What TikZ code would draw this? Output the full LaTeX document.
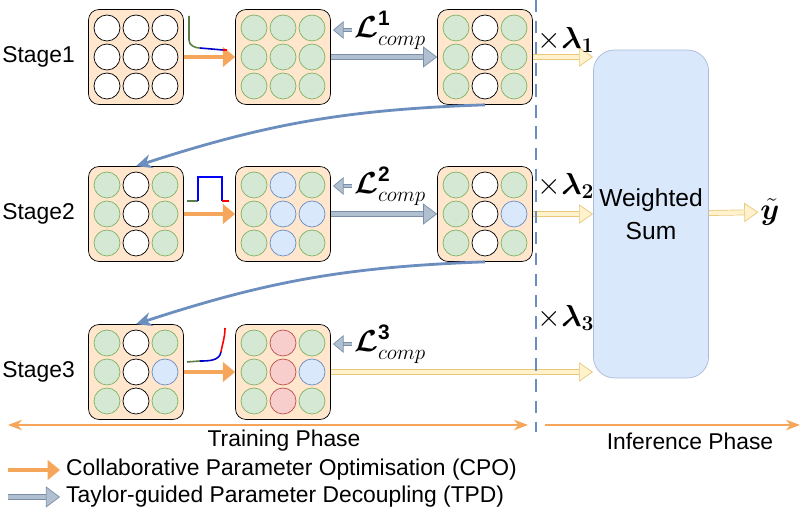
\documentclass[tikz,border=0pt]{standalone}
\usepackage{fontspec}
\setmainfont{Liberation Sans}
\usepackage{amsmath,bm}
\usetikzlibrary{arrows.meta}
\usetikzlibrary{calc}

\definecolor{boxfill}{HTML}{FFE6CC}
\definecolor{gfill}{HTML}{D5E8D4}\definecolor{gline}{HTML}{82B366}
\definecolor{bfill}{HTML}{DAE8FC}\definecolor{bline}{HTML}{6C8EBF}
\definecolor{rfill}{HTML}{F8CECC}\definecolor{rline}{HTML}{B85450}
\definecolor{cpo}{HTML}{F5A65B}
\definecolor{tpd}{HTML}{B0C0D0}\definecolor{tpdline}{HTML}{7A8FA6}
\definecolor{out}{HTML}{FFF2CC}\definecolor{outline}{HTML}{E8C879}
\definecolor{jump}{HTML}{6C8EBF}

\tikzset{
  block/.style={draw, fill=boxfill, rounded corners=6pt, minimum width=1.9cm, minimum height=1.9cm, inner sep=0pt},
  W/.style={draw=black, fill=white},
  G/.style={draw=gline, fill=gfill},
  B/.style={draw=bline, fill=bfill},
  R/.style={draw=rline, fill=rfill},
  cpoarrow/.style={draw=cpo, line width=2.5pt, -{Triangle[length=7pt,width=11pt]}},
  tpdarrow/.style={draw=tpdline, double=tpd, double distance=2.5pt, -{Triangle[open,length=8pt,width=12pt,fill=tpd]}},
  outarrow/.style={draw=outline, double=out, double distance=2.5pt, -{Triangle[open,length=8pt,width=11pt,fill=out]}},
  jumparrow/.style={draw=jump, line width=1.6pt, -{Stealth[length=9pt,width=8pt]}},
  lbl/.style={font=\fontsize{13}{15}\selectfont},
  loss/.style={font=\fontsize{17}{19}\selectfont},
}

% block with a 3x3 grid of circles
\newcommand{\grid}[4]{%
  \node[block] (#1) at (#2,#3) {};
  \foreach \c [count=\i from 0] in {#4} {
    \pgfmathtruncatemacro{\col}{mod(\i,3)}
    \pgfmathtruncatemacro{\row}{div(\i,3)}
    \draw[\c] ($(#1)+(\col*29-29,\row*29-29)$) circle (13);
  }%
}

\begin{document}
\begin{tikzpicture}[x=0.02cm, y=-0.02cm]
    \useasboundingbox (0,0) rectangle (806,516);
    % Stage labels
    \node[lbl, anchor=west, inner sep=0pt] (s1) at (2,57) {Stage1};
    \node[lbl, anchor=west, inner sep=0pt] (s2) at (2,214) {Stage2};
    \node[lbl, anchor=west, inner sep=0pt] (s3) at (2,372) {Stage3};
    % Stage 1
    \grid{a1}{136}{57}{W,W,W,W,W,W,W,W,W}
    \grid{b1}{283}{57}{G,G,G,G,G,G,G,G,G}
    \grid{c1}{485}{57}{G,W,G,G,W,G,G,W,G}
    % Stage 2
    \grid{a2}{136}{214}{G,W,G,G,W,G,G,W,G}
    \grid{b2}{283}{214}{G,B,G,G,B,B,G,B,G}
    \grid{c2}{485}{214}{G,W,G,G,W,B,G,W,G}
    % Stage 3
    \grid{a3}{136}{372}{G,W,G,G,W,B,G,W,G}
    \grid{b3}{283}{372}{G,R,G,G,R,B,G,R,G}
    % Weighted sum
    \node[draw=bline!60, fill=bfill, rounded corners=12pt, minimum width=2.26cm, minimum height=6.56cm, font=\fontsize{14}{19}\selectfont, align=center] (ws) at (651,214) {Weighted\\Sum};
    \coordinate (ws1) at ($(ws.west)+(0,-157)$);
    \coordinate (ws3) at ($(ws.west)+(0,158)$);
    % CPO arrows
    \draw[cpoarrow] (a1) -- (b1);
    \draw[cpoarrow] (a2) -- (b2);
    \draw[cpoarrow] (a3) -- (b3);
    % TPD arrows
    \draw[tpdarrow] (b1) -- (c1);
    \draw[tpdarrow] (b2) -- (c2);
    % Losses
    \node[loss, inner sep=1pt, anchor=west] (l1) at (352,30) {$\boldsymbol{\mathcal{L}}^{\mathbf{1}}_{comp}$};
    \node[loss, inner sep=1pt, anchor=west] (l2) at (352,186) {$\boldsymbol{\mathcal{L}}^{\mathbf{2}}_{comp}$};
    \node[loss, inner sep=1pt, anchor=west] (l3) at (352,344) {$\boldsymbol{\mathcal{L}}^{\mathbf{3}}_{comp}$};
    \foreach \n in {1,2,3}
      \draw[tpdarrow, double distance=1.5pt, -{Triangle[open,length=6pt,width=10pt,fill=tpd]}] (l\n.west) -- ++(-19,0);
    % Outputs
    \draw[outarrow] (c1) -- (ws1);
    \draw[outarrow] (c2) -- (c2 -| ws.west);
    \draw[outarrow] (b3) -- (ws3);
    \node[loss] (m1) at (566,40) {$\times\boldsymbol{\lambda_1}$};
    \node[loss] (m2) at (566,186) {$\times\boldsymbol{\lambda_2}$};
    \node[loss] (m3) at (566,318) {$\times\boldsymbol{\lambda_3}$};
    \node[loss, inner sep=1pt] (y) at (770,212) {$\tilde{\boldsymbol{y}}$};
    \draw[outarrow] (ws) -- (y);
    % Jumps between stages
    \draw[jumparrow] (c1.south) to[bend right=8] (a2.north);
    \draw[jumparrow] (c2.south) to[bend right=8] (a3.north);
    % Loss curves
    \draw[gline!70!black, line width=0.9pt] (189,16) -- (189,40) to[out=270,in=180] (200,48);
    \draw[blue!80!black, line width=0.9pt] (200,48) -- (223,50);
    \draw[red, line width=0.9pt] (223,50) -- (227,50);
    \draw[gline!70!black, line width=0.9pt] (187,201) -- (198,201);
    \draw[blue, line width=0.9pt] (198,201) -- (198,177) -- (222,177) -- (222,201);
    \draw[red, line width=0.9pt] (222,201) -- (229,201);
    \draw[gline!70!black, line width=0.9pt] (187,362) -- (200,361);
    \draw[blue!80!black, line width=0.9pt] (200,361) to[out=0,in=-100] (221,352);
    \draw[red, line width=0.9pt] (221,352) to[out=80,in=-90] (225,328);
    % Phase separator
    \draw[jump, line width=1.5pt, dash pattern=on 7pt off 5pt] (536,0) -- (536,432);
    \draw[cpo, line width=1.5pt, {Stealth[length=8pt]}-{Stealth[length=8pt]}] (8,425) -- (528,425);
    \draw[cpo, line width=1.5pt, -{Stealth[length=8pt]}] (545,425) -- (800,425);
    \node[lbl] (tp) at (284,441) {Training Phase};
    \node[lbl] (ip) at (690,441) {Inference Phase};
    % Legend
    \coordinate (e1) at (8,470); \coordinate (e2) at (8,497);
    \node[lbl, anchor=west] (lc) at (60,470) {Collaborative Parameter Optimisation (CPO)};
    \node[lbl, anchor=west] (lt) at (60,497) {Taylor-guided Parameter Decoupling (TPD)};
    \draw[cpoarrow] (e1) -- (lc.west);
    \draw[tpdarrow] (e2) -- (lt.west);
\end{tikzpicture}
\end{document}
